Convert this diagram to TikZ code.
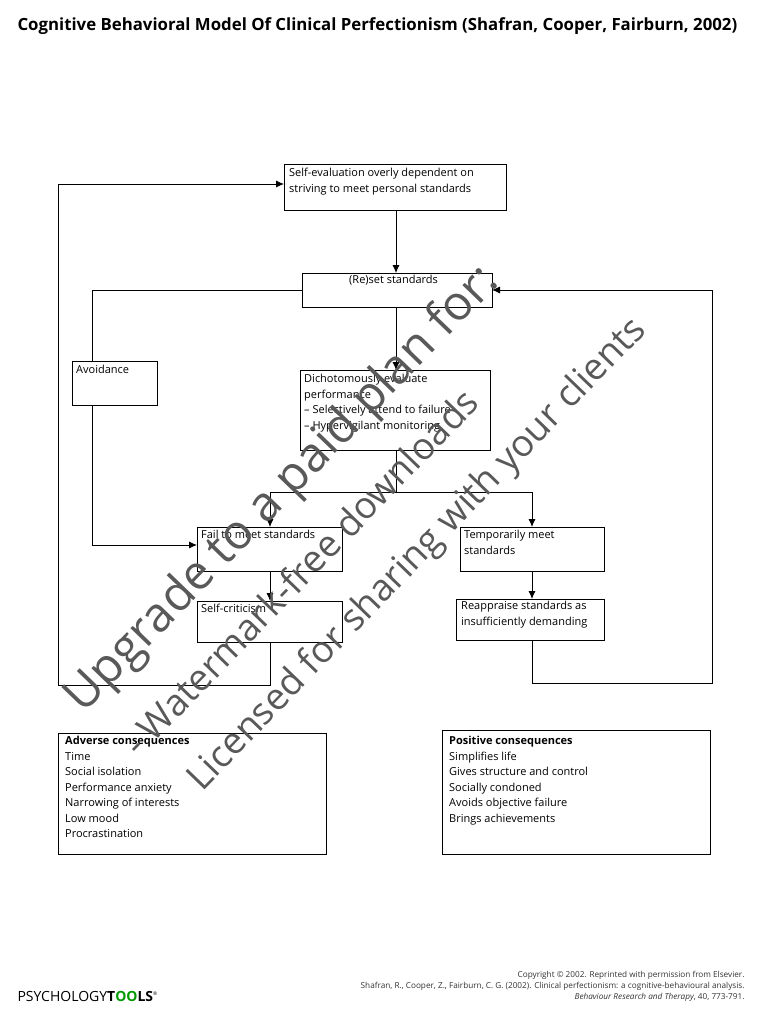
\documentclass[tikz,border=0pt]{standalone}
\usepackage{fontspec}
\setmainfont{Open Sans}
\usetikzlibrary{arrows.meta}
\begin{document}
\begin{tikzpicture}[x=1pt,y=-1pt,
  box/.style={draw,line width=0.8pt,inner sep=0pt},
  txt/.style={anchor=north west,align=left,font=\fontsize{11}{15.5}\selectfont,inner sep=0pt},
  ln/.style={line width=0.8pt},
  ar/.style={ln,-{Latex[length=8pt,width=7pt]}},
  wm/.style={font=\fontsize{48}{48}\selectfont,text=black!65,rotate=46}]
\useasboundingbox (0,0) rectangle (768,1024);
\node[anchor=west,font=\bfseries\fontsize{16.8}{19}\selectfont] (title) at (14,26) {Cognitive Behavioral Model Of Clinical Perfectionism (Shafran, Cooper, Fairburn, 2002)};
% boxes
\draw[box] (284,164) rectangle (506,210);
\node[txt] (set) at (289,168) {Self-evaluation overly dependent on\\striving to meet personal standards};
\draw[box] (302,273) rectangle (492,307);
\node[txt] (rst) at (349,275) {(Re)set standards};
\draw[box] (72,361) rectangle (157,405);
\node[txt] (avt) at (76,365) {Avoidance};
\draw[box] (300,370) rectangle (490,450);
\node[txt] (dit) at (304,374) {Dichotomously evaluate\\performance\\– Selectively attend to failure\\– Hypervigilant monitoring};
\draw[box] (197,527) rectangle (342,571);
\node[txt] (ft) at (201,530) {Fail to meet standards};
\draw[box] (197,601) rectangle (342,642);
\node[txt] (sct) at (201,604) {Self-criticism};
\draw[box] (460,527) rectangle (604,571);
\node[txt] (tt) at (464,530) {Temporarily meet\\standards};
\draw[box] (456,599) rectangle (604,640);
\node[txt] (rt) at (461,601) {Reappraise standards as\\insufficiently demanding};
\draw[box] (58,733) rectangle (326,854);
\node[txt] (adv) at (65,736) {\textbf{Adverse consequences}\\Time\\Social isolation\\Performance anxiety\\Narrowing of interests\\Low mood\\Procrastination};
\draw[box] (442,730) rectangle (710,854);
\node[txt] (pos) at (449,736) {\textbf{Positive consequences}\\Simplifies life\\Gives structure and control\\Socially condoned\\Avoids objective failure\\Brings achievements};
% connectors
\coordinate (a1) at (396,210); \coordinate (a2) at (396,273);
\draw[ar] (a1) -- (a2);
\coordinate (b1) at (396,307); \coordinate (b2) at (396,370);
\draw[ar] (b1) -- (b2);
\coordinate (c1) at (396,450); \coordinate (c2) at (270,527); \coordinate (c3) at (532,527);
\draw[ln] (c1) -- (396,492);
\draw[ar] (396,492) -| (c2);
\draw[ar] (396,492) -| (c3);
\coordinate (d1) at (270,571); \coordinate (d2) at (270,601);
\draw[ar] (d1) -- (d2);
\coordinate (e1) at (532,571); \coordinate (e2) at (532,599);
\draw[ar] (e1) -- (e2);
\coordinate (f1) at (302,290); \coordinate (f2) at (92,361);
\draw[ln] (f1) -| (f2);
\coordinate (g1) at (92,405); \coordinate (g2) at (197,545);
\draw[ar] (g1) |- (g2);
\coordinate (h1) at (270,642); \coordinate (h2) at (284,184);
\draw[ar] (h1) -- (270,685) -- (58,685) -- (58,184) -- (h2);
\coordinate (i1) at (532,640); \coordinate (i2) at (492,290);
\draw[ar] (i1) -- (532,683) -- (712,683) -- (712,290) -- (i2);
% watermark
\node[wm] (w1) at (283,490) {Upgrade to a paid plan for:};
\node[wm,font=\fontsize{37}{37}\selectfont] (w2) at (300,572) {- Watermark-free downloads};
\node[wm,font=\fontsize{37}{37}\selectfont] (w3) at (418,555) {Licensed for sharing with your clients};
% footer
\node[anchor=west,font=\fontsize{14}{16}\selectfont] (logo) at (14,996) {PSYCHOLOGY\textbf{T{\color{green!60!black}OO}LS}\textsuperscript{\tiny ®}};
\node[anchor=north east,align=right,font=\fontsize{8.2}{11}\selectfont,text=black!80] (ref) at (748,968) {Copyright © 2002. Reprinted with permission from Elsevier.\\Shafran, R., Cooper, Z., Fairburn, C. G. (2002). Clinical perfectionism: a cognitive-behavioural analysis.\\\textit{Behaviour Research and Therapy}, 40, 773-791.};
\end{tikzpicture}
\end{document}
